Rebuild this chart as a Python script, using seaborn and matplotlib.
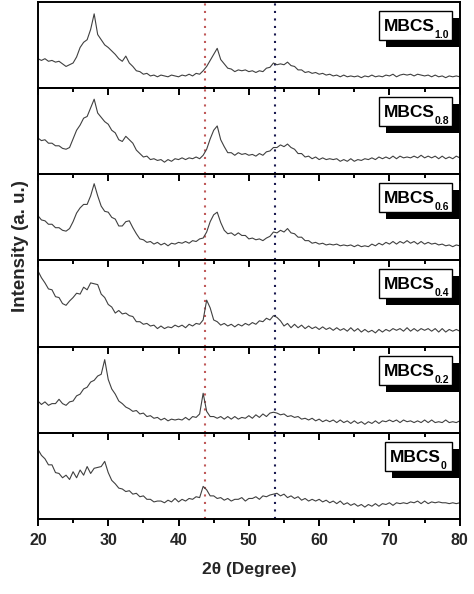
import numpy as np
import pandas as pd
import matplotlib
matplotlib.use("Agg")
import matplotlib.pyplot as plt
from matplotlib.patches import Rectangle
import seaborn as sns

# ---- data (2theta grid 20..80 step 0.5, intensities in a.u. per panel) ----
two_theta = [20 + 0.5 * i for i in range(121)]

mbcs_1_0 = [34, 32, 34, 31, 32, 30, 31, 28, 25, 27,
            29, 36, 47, 53, 56, 68, 86, 62, 56, 50,
            47, 43, 39, 34, 31, 37, 29, 25, 20, 19,
            16, 17, 14, 15, 13, 15, 14, 13, 15, 14,
            13, 15, 14, 16, 14, 17, 16, 20, 25, 32,
            39, 46, 33, 28, 23, 22, 19, 21, 20, 21,
            19, 20, 18, 20, 19, 23, 24, 29, 27, 28,
            27, 30, 26, 25, 21, 21, 18, 19, 17, 18,
            16, 17, 15, 16, 14, 15, 13, 15, 13, 14,
            13, 14, 12, 14, 13, 15, 13, 14, 13, 15,
            14, 16, 13, 15, 16, 15, 16, 14, 16, 15,
            14, 15, 13, 15, 13, 14, 12, 14, 13, 14,
            13]

mbcs_0_8 = [42, 39, 40, 36, 36, 33, 33, 30, 29, 31,
            41, 51, 57, 65, 67, 77, 87, 71, 66, 61,
            58, 51, 48, 40, 38, 44, 40, 36, 28, 24,
            20, 21, 17, 18, 16, 17, 14, 17, 15, 18,
            17, 19, 17, 19, 18, 20, 18, 22, 29, 41,
            51, 56, 40, 32, 25, 25, 22, 25, 23, 24,
            22, 23, 21, 24, 22, 26, 27, 31, 31, 34,
            32, 35, 31, 29, 24, 24, 20, 21, 18, 20,
            17, 19, 17, 18, 17, 18, 15, 17, 15, 18,
            15, 17, 16, 18, 17, 19, 17, 20, 18, 20,
            18, 21, 18, 21, 19, 20, 19, 21, 19, 22,
            19, 21, 19, 21, 18, 21, 18, 20, 18, 21,
            19]

mbcs_0_6 = [52, 47, 46, 42, 42, 38, 38, 35, 34, 37,
            45, 55, 61, 65, 65, 75, 89, 75, 63, 57,
            56, 50, 48, 40, 40, 45, 46, 38, 31, 25,
            24, 21, 22, 19, 21, 18, 20, 17, 20, 19,
            21, 20, 22, 20, 23, 22, 25, 26, 33, 45,
            53, 56, 44, 35, 31, 32, 29, 32, 29, 29,
            25, 26, 24, 25, 23, 26, 28, 33, 32, 35,
            33, 37, 32, 31, 27, 27, 23, 23, 20, 21,
            19, 20, 18, 19, 18, 19, 17, 18, 17, 18,
            16, 18, 16, 17, 16, 19, 17, 20, 18, 21,
            19, 22, 19, 22, 20, 23, 20, 22, 19, 22,
            19, 21, 19, 20, 18, 19, 17, 18, 16, 18,
            17]

mbcs_0_4 = [88, 80, 74, 67, 66, 58, 57, 50, 48, 53,
            57, 62, 61, 69, 66, 74, 73, 72, 61, 57,
            49, 46, 39, 42, 38, 39, 36, 35, 29, 29,
            26, 27, 24, 25, 21, 24, 21, 23, 22, 25,
            23, 25, 22, 26, 24, 27, 26, 31, 54, 45,
            31, 29, 25, 27, 24, 26, 23, 26, 24, 27,
            25, 28, 26, 30, 29, 33, 31, 36, 34, 30,
            24, 27, 22, 26, 22, 25, 21, 24, 21, 23,
            20, 23, 20, 22, 19, 22, 19, 21, 18, 22,
            18, 21, 17, 20, 17, 19, 16, 20, 17, 20,
            18, 21, 19, 21, 18, 22, 18, 21, 18, 21,
            19, 21, 18, 21, 17, 21, 17, 20, 18, 20,
            18]

mbcs_0_2 = [37, 33, 36, 32, 34, 34, 39, 34, 32, 36,
            37, 43, 45, 51, 53, 59, 61, 66, 68, 85,
            62, 51, 45, 37, 34, 30, 28, 25, 26, 22,
            23, 19, 20, 17, 18, 15, 17, 14, 16, 15,
            16, 15, 18, 15, 19, 18, 22, 46, 25, 19,
            19, 17, 19, 16, 19, 16, 19, 16, 18, 17,
            20, 17, 21, 18, 22, 19, 23, 24, 23, 21,
            22, 19, 20, 18, 19, 16, 17, 15, 17, 14,
            16, 13, 15, 13, 15, 12, 15, 12, 14, 11,
            14, 11, 13, 10, 13, 11, 14, 11, 14, 13,
            15, 13, 15, 12, 15, 13, 14, 12, 14, 12,
            15, 12, 15, 12, 13, 12, 15, 12, 13, 12,
            14]

mbcs_0 = [81, 74, 70, 63, 63, 54, 53, 48, 51, 46,
          55, 48, 57, 51, 61, 53, 59, 60, 61, 67,
          54, 45, 41, 36, 35, 32, 33, 29, 30, 26,
          27, 23, 23, 20, 21, 21, 19, 22, 20, 24,
          20, 23, 21, 24, 23, 26, 25, 38, 34, 27,
          27, 24, 25, 22, 24, 21, 23, 23, 25, 21,
          24, 24, 26, 23, 27, 26, 28, 29, 30, 27,
          29, 25, 27, 24, 26, 22, 24, 21, 23, 21,
          23, 20, 22, 19, 21, 18, 21, 17, 19, 16,
          18, 15, 17, 14, 17, 15, 18, 15, 18, 17,
          19, 16, 19, 18, 19, 18, 20, 19, 21, 18,
          21, 18, 20, 19, 20, 19, 19, 18, 19, 18,
          19]

sample_names = ["1.0", "0.8", "0.6", "0.4", "0.2", "0"]
series = [mbcs_1_0, mbcs_0_8, mbcs_0_6, mbcs_0_4, mbcs_0_2, mbcs_0]
ref_lines = [43.7, 53.7]
x_ticks = [20, 30, 40, 50, 60, 70, 80]
minor_ticks = [25, 35, 45, 55, 65, 75]

# ---- style ----
sns.set_style("ticks")
plt.rcParams["font.family"] = ["Liberation Sans", "DejaVu Sans"]
plt.rcParams["font.weight"] = "bold"

W, H = 474, 594
fig = plt.figure(figsize=(W / 100, H / 100), dpi=100)
fig.patch.set_facecolor("white")
axes = fig.subplots(6, 1, sharex=True, gridspec_kw=dict(hspace=0))
L, R, T, B = 0.080, 0.970, 0.997, 0.126
fig.subplots_adjust(left=L, right=R, top=T, bottom=B)
ax_w = (R - L) * W
ax_h = (T - B) * H / 6

for ax, name, vals in zip(axes, sample_names, series):
    df = pd.DataFrame({"2theta": two_theta, "I": vals})
    ax.patch.set_alpha(0)
    sns.lineplot(data=df, x="2theta", y="I", ax=ax, color="#404040",
                 linewidth=0.8)
    ax.axvline(ref_lines[0], color="#c05a5a", linestyle=(0, (1, 2.6)),
               linewidth=1.5, zorder=0)
    ax.axvline(ref_lines[1], color="#1a1a50", linestyle=(0, (1, 2.6)),
               linewidth=1.5, zorder=0)
    ax.set_xlim(20, 80)
    ax.set_ylim(0, 100)
    ax.set_yticks([])
    ax.set_xlabel("")
    ax.set_ylabel("")
    for s in ax.spines.values():
        s.set_linewidth(1.4)
        s.set_color("black")
    ax.set_xticks(x_ticks)
    ax.set_xticks(minor_ticks, minor=True)
    ax.tick_params(axis="x", which="major", direction="out", length=5,
                   width=1.4, labelsize=11.5, pad=5, color="black")
    ax.tick_params(axis="x", which="minor", direction="out", length=3,
                   width=1.4, color="black")

    # label box with drop shadow
    bw = (67 if name == "0" else 73) / ax_w
    bh = 29 / ax_h
    right = 414 / ax_w
    top = 1 - 9 / ax_h
    x0, y0 = right - bw, top - bh
    sx, sy = 7 / ax_w, 7 / ax_h
    ax.add_patch(Rectangle((x0 + sx, y0 - sy), bw, bh, transform=ax.transAxes,
                           facecolor="black", edgecolor="black", lw=0,
                           zorder=5, clip_on=False))
    ax.add_patch(Rectangle((x0, y0), bw, bh, transform=ax.transAxes,
                           facecolor="white", edgecolor="black", lw=1.0,
                           zorder=6, clip_on=False))
    main = ax.text(x0 + 5 / ax_w, top - 20 / ax_h, "MBCS",
                   transform=ax.transAxes, ha="left", va="baseline",
                   fontsize=12.5, fontweight="bold", color="black", zorder=7)
    ax.annotate(name, xy=(1, 0), xycoords=main, xytext=(0, -4),
                textcoords="offset pixels", ha="left", va="baseline",
                fontsize=7.5, fontweight="bold", color="black", zorder=7)

for ax in axes[:-1]:
    ax.tick_params(axis="x", labelbottom=False)
axes[-1].set_xticklabels([str(v) for v in x_ticks], fontweight="bold")

axes[-1].set_xlabel("2θ (Degree)", fontsize=12.5, fontweight="bold",
                    labelpad=10)
fig.text(0.043, 0.585, "Intensity (a. u.)", rotation=90, ha="center",
         va="center", fontsize=13.5, fontweight="bold")

fig.savefig("out.png", dpi=100, facecolor="white")
